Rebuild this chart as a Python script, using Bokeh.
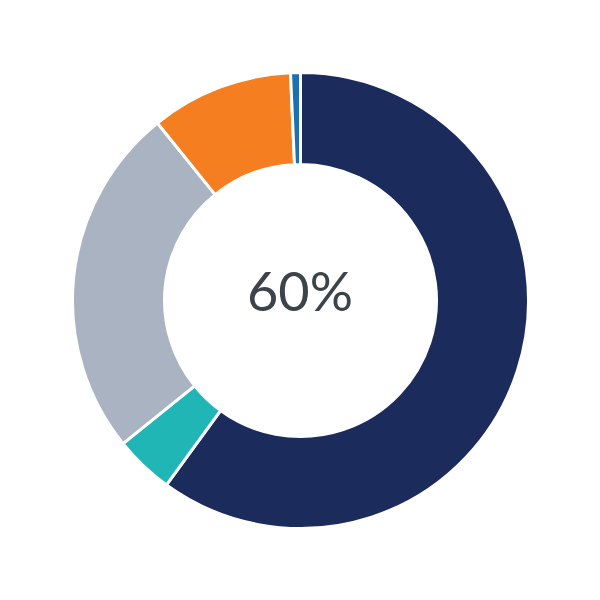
from bokeh.plotting import figure
from bokeh.models import ColumnDataSource
from bokeh.embed import file_html
from bokeh.resources import INLINE
from bokeh.core.properties import value
import math

categories = ["A", "B", "C", "D", "E"]
values = [60, 4.2, 25, 10.1, 0.7]
colors = ["#1b2b5b", "#20b6b6", "#a9b3c1", "#f47e20", "#1c6fb0"]
center_label = "60%"

total = sum(values)
starts, ends = [], []
cum = 0.0
for v in values:
    starts.append(math.pi / 2 - cum / total * 2 * math.pi)
    cum += v
    ends.append(math.pi / 2 - cum / total * 2 * math.pi)

src = ColumnDataSource(dict(cat=categories, val=values, color=colors,
                            start=starts, end=ends,
                            x=[0] * len(values), y=[0] * len(values)))

p = figure(width=584, height=584, x_range=(-300, 284), y_range=(-284, 300),
           output_backend="svg", toolbar_location=None, min_border=0)
p.axis.visible = False
p.grid.visible = False
p.outline_line_color = None
p.background_fill_color = "white"
p.border_fill_color = "white"

p.annular_wedge(x="x", y="y", inner_radius=136, outer_radius=228,
                start_angle="start", end_angle="end", direction="clock",
                fill_color="color", line_color="white", line_width=3,
                source=src)

p.text(x=[-0.5], y=[10], text=[center_label], text_font=value("Lato"),
       text_font_size="54px", text_color="#3d434b", text_align="center",
       text_baseline="alphabetic")

open("out.html", "w").write(file_html(p, INLINE))
